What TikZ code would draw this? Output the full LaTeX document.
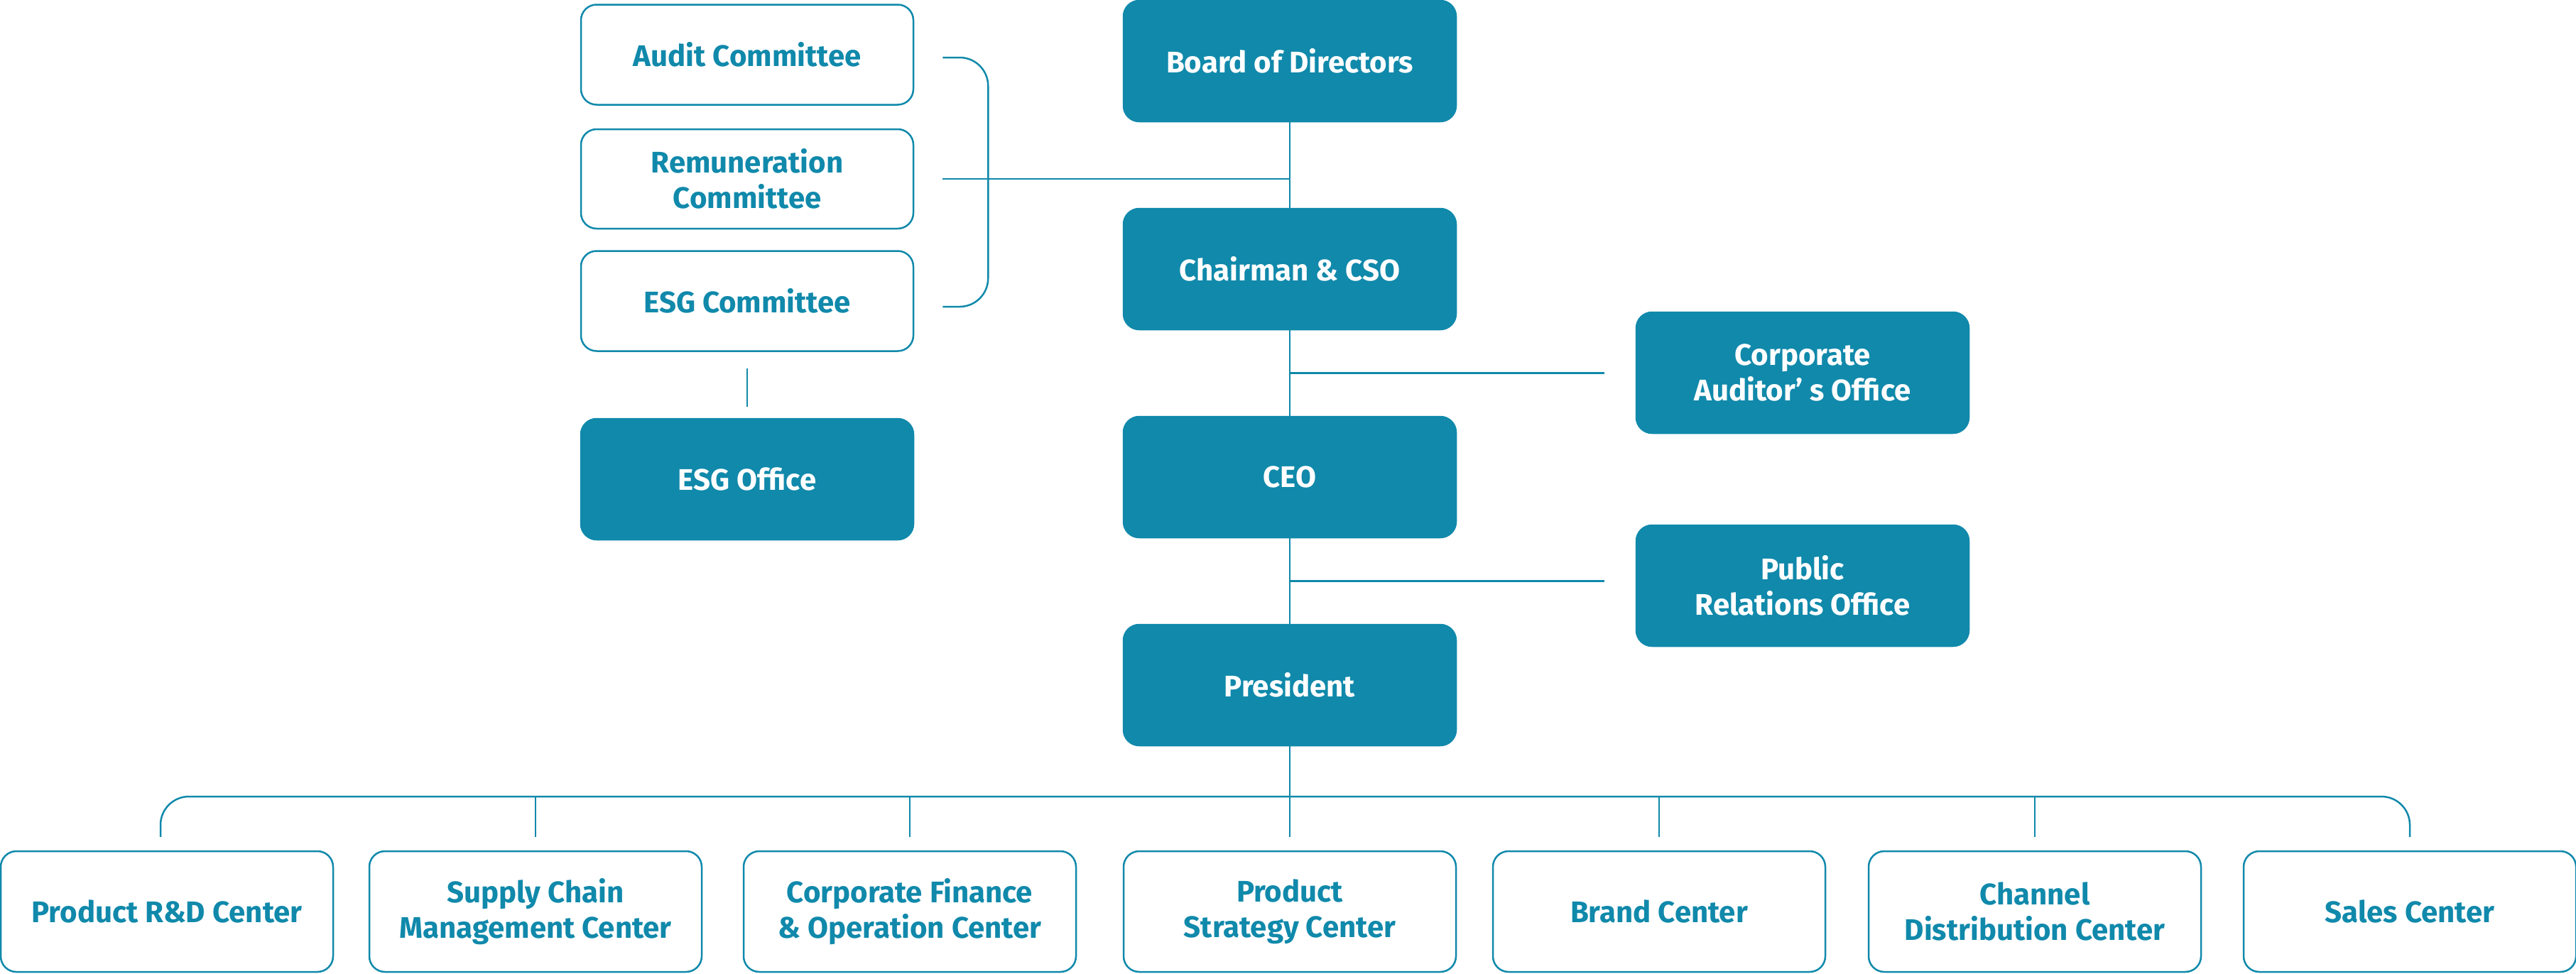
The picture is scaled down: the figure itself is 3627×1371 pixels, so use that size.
\documentclass[tikz,border=0pt]{standalone}
\usepackage{fontspec}
\setmainfont{Fira Sans}
\usetikzlibrary{calc}
\definecolor{teal1}{HTML}{1089AB}
\tikzset{
  base/.style={rounded corners=22pt, minimum width=468pt, align=center, inner sep=0pt,
    font=\fontsize{42}{50}\selectfont\bfseries},
  solidbox/.style={base, fill=teal1, draw=teal1, line width=2.5pt, text=white, minimum height=170pt},
  openbox/.style={base, draw=teal1, line width=2.5pt, text=teal1, fill=white},
  conn/.style={draw=teal1, line width=2.5pt},
}
\begin{document}
\begin{tikzpicture}[x=1pt,y=-1pt]
\useasboundingbox (0,0) rectangle (3627,1371);
% main column
\node[solidbox] (board) at (1816,86) {Board of Directors};
\node[solidbox] (chair) at (1816,379) {Chairman \& CSO};
\node[solidbox] (ceo) at (1816,672) {CEO};
\node[solidbox] (pres) at (1816,965) {President};
% committees
\node[openbox, minimum height=141pt] (audit) at (1052,77) {Audit Committee};
\node[openbox, minimum height=140pt] (remun) at (1052,252) {Remuneration\\Committee};
\node[openbox, minimum height=141pt] (esgc) at (1052,424) {ESG Committee};
\node[solidbox] (esgo) at (1052,675) {ESG Office};
% offices
\node[solidbox] (aud) at (2538,525) {Corporate\\Auditor’ s Office};
\node[solidbox] (pr) at (2538,825) {Public\\Relations Office};
% bottom row
\node[openbox, minimum height=170pt] (c1) at (235,1284) {Product R\&D Center};
\node[openbox, minimum height=170pt] (c2) at (754,1284) {Supply Chain\\Management Center};
\node[openbox, minimum height=170pt] (c3) at (1281,1284) {Corporate Finance\\\& Operation Center};
\node[openbox, minimum height=170pt] (c4) at (1816,1284) {Product\\Strategy Center};
\node[openbox, minimum height=170pt] (c5) at (2336,1284) {Brand Center};
\node[openbox, minimum height=170pt] (c6) at (2865,1284) {Channel\\Distribution Center};
\node[openbox, minimum height=170pt] (c7) at (3393,1284) {Sales Center};
% coordinates
\coordinate (bA) at ($(audit.east)+(40,4)$);
\coordinate (bE) at ($(esgc.east)+(40,8)$);
\coordinate (bR) at ($(remun.east)+(40,0)$);
\coordinate (j1) at (board.south |- bR);
\coordinate (j2) at ($(chair.south)!0.5!(ceo.north)$);
\coordinate (j3) at ($(ceo.south)!0.5!(pres.north)$);
\coordinate (busL) at ($(c1.north)+(-9,-19)$);
\coordinate (busR) at ($(c7.north)+(0,-19)$);
\coordinate (busM) at (pres.south |- 0,1122);
% connectors
\draw[conn] (board.south) -- (chair.north);
\draw[conn] (chair.south) -- (ceo.north);
\draw[conn] (ceo.south) -- (pres.north);
\draw[conn, rounded corners=40pt] (bA) -| ($(bE)+(64,0)$) -- (bE);
\draw[conn] (bR) -- (j1);
\draw[conn] (j2 -| chair.south) -- ($(aud.west |- j2)+(-44,0)$);
\draw[conn] (j3 -| ceo.south) -- ($(pr.west |- j3)+(-44,0)$);
\draw[conn] ($(esgc.south)+(0,23)$) -- ($(esgo.north)+(0,-16)$);
\draw[conn] (pres.south) -- (busM);
\draw[conn, rounded corners=40pt] (busL) |- (busM -| c4.north) -| (busR);
\foreach \n in {c2,c3,c4,c5,c6} \draw[conn] (\n.north |- busM) -- ($(\n.north)+(0,-19)$);
\end{tikzpicture}
\end{document}
